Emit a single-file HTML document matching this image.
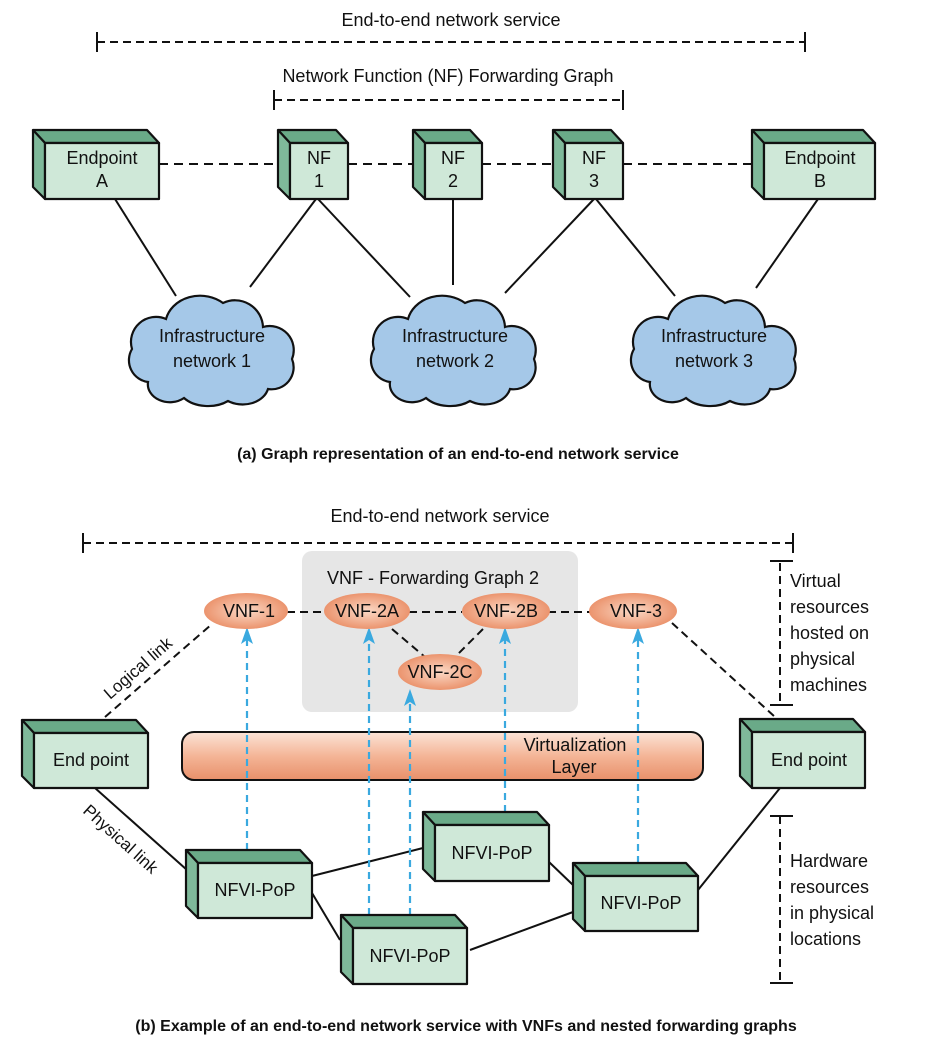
<!DOCTYPE html>
<html><head><meta charset="utf-8"><style>
html,body{margin:0;padding:0;background:#fff;}
svg{display:block;font-family:"Liberation Sans",Arial,sans-serif;}
</style></head><body>
<svg width="935" height="1044" viewBox="0 0 935 1044" xmlns="http://www.w3.org/2000/svg">
<defs>
<linearGradient id="og" x1="0" y1="0" x2="0" y2="1">
<stop offset="0" stop-color="#fbe3d6"/><stop offset="0.5" stop-color="#f4b597"/><stop offset="1" stop-color="#e8906a"/>
</linearGradient>
<radialGradient id="eg" cx="0.5" cy="0.5" r="0.6">
<stop offset="0" stop-color="#fbd9c6"/><stop offset="1" stop-color="#e8865c"/>
</radialGradient>
</defs>

<g fill="#111" font-size="18" text-anchor="middle">
<text x="451" y="26">End-to-end network service</text>
<text x="448" y="82">Network Function (NF) Forwarding Graph</text>
</g>
<g stroke="#111" stroke-width="2" fill="none">
<line x1="97" y1="42" x2="805" y2="42" stroke-dasharray="8,5"/>
<line x1="97" y1="32" x2="97" y2="52"/><line x1="805" y1="32" x2="805" y2="52"/>
<line x1="274" y1="100" x2="623" y2="100" stroke-dasharray="8,5"/>
<line x1="274" y1="90" x2="274" y2="110"/><line x1="623" y1="90" x2="623" y2="110"/>
</g>

<g stroke="#111" stroke-width="2" fill="none">
<line x1="159" y1="164" x2="278" y2="164" stroke-dasharray="9,6"/>
<line x1="348" y1="164" x2="413" y2="164" stroke-dasharray="9,6"/>
<line x1="482" y1="164" x2="553" y2="164" stroke-dasharray="9,6"/>
<line x1="623" y1="164" x2="752" y2="164" stroke-dasharray="9,6"/>
<line x1="115" y1="199" x2="176" y2="296"/>
<line x1="316" y1="199" x2="250" y2="287"/>
<line x1="318" y1="199" x2="410" y2="297"/>
<line x1="453" y1="199" x2="453" y2="285"/>
<line x1="594" y1="199" x2="505" y2="293"/>
<line x1="596" y1="199" x2="675" y2="296"/>
<line x1="818" y1="199" x2="756" y2="288"/>
</g>

<g fill="#a5c8e8" stroke="#111" stroke-width="2.2">
<path transform="translate(118,287)" d="M30,95 A22,22 0 0 1 14,62 A25,25 0 0 1 48,32 A35,30 0 0 1 105,16 A28,28 0 0 1 145,40 A24,24 0 0 1 174,72 A22,22 0 0 1 150,102 A26,20 0 0 1 110,114 A30,20 0 0 1 66,111 A22,18 0 0 1 30,95 Z"/>
<path transform="translate(360,287)" d="M30,95 A22,22 0 0 1 14,62 A25,25 0 0 1 48,32 A35,30 0 0 1 105,16 A28,28 0 0 1 145,40 A24,24 0 0 1 174,72 A22,22 0 0 1 150,102 A26,20 0 0 1 110,114 A30,20 0 0 1 66,111 A22,18 0 0 1 30,95 Z"/>
<path transform="translate(620,287)" d="M30,95 A22,22 0 0 1 14,62 A25,25 0 0 1 48,32 A35,30 0 0 1 105,16 A28,28 0 0 1 145,40 A24,24 0 0 1 174,72 A22,22 0 0 1 150,102 A26,20 0 0 1 110,114 A30,20 0 0 1 66,111 A22,18 0 0 1 30,95 Z"/>
</g>
<g fill="#111" font-size="18" text-anchor="middle">
<text x="212" y="342">Infrastructure</text><text x="212" y="367">network 1</text>
<text x="455" y="342">Infrastructure</text><text x="455" y="367">network 2</text>
<text x="714" y="342">Infrastructure</text><text x="714" y="367">network 3</text>
</g>

<g stroke="#111" stroke-width="2.2" stroke-linejoin="round">
<polygon points="45,143 33,130 147,130 159,143" fill="#6aaa88"/>
<polygon points="45,143 33,130 33,187 45,199" fill="#7fb99a"/>
<rect x="45" y="143" width="114" height="56" fill="#cfe8d8"/>
<polygon points="290,143 278,130 336,130 348,143" fill="#6aaa88"/>
<polygon points="290,143 278,130 278,187 290,199" fill="#7fb99a"/>
<rect x="290" y="143" width="58" height="56" fill="#cfe8d8"/>
<polygon points="425,143 413,130 470,130 482,143" fill="#6aaa88"/>
<polygon points="425,143 413,130 413,187 425,199" fill="#7fb99a"/>
<rect x="425" y="143" width="57" height="56" fill="#cfe8d8"/>
<polygon points="565,143 553,130 611,130 623,143" fill="#6aaa88"/>
<polygon points="565,143 553,130 553,187 565,199" fill="#7fb99a"/>
<rect x="565" y="143" width="58" height="56" fill="#cfe8d8"/>
<polygon points="764,143 752,130 863,130 875,143" fill="#6aaa88"/>
<polygon points="764,143 752,130 752,187 764,199" fill="#7fb99a"/>
<rect x="764" y="143" width="111" height="56" fill="#cfe8d8"/>
</g>
<g fill="#111" font-size="18" text-anchor="middle">
<text x="102" y="164">Endpoint</text><text x="102" y="187">A</text>
<text x="319" y="164">NF</text><text x="319" y="187">1</text>
<text x="453" y="164">NF</text><text x="453" y="187">2</text>
<text x="594" y="164">NF</text><text x="594" y="187">3</text>
<text x="820" y="164">Endpoint</text><text x="820" y="187">B</text>
</g>

<text x="458" y="459" font-size="16" font-weight="bold" text-anchor="middle" fill="#111">(a) Graph representation of an end-to-end network service</text>

<text x="440" y="522" font-size="18" text-anchor="middle" fill="#111">End-to-end network service</text>
<g stroke="#111" stroke-width="2" fill="none">
<line x1="83" y1="543" x2="793" y2="543" stroke-dasharray="8,5"/>
<line x1="83" y1="533" x2="83" y2="553"/><line x1="793" y1="533" x2="793" y2="553"/>
<line x1="780" y1="563" x2="780" y2="705" stroke-dasharray="8,5"/>
<line x1="770" y1="561" x2="793" y2="561"/><line x1="770" y1="705" x2="793" y2="705"/>
<line x1="780" y1="816" x2="780" y2="983" stroke-dasharray="8,5"/>
<line x1="770" y1="816" x2="793" y2="816"/><line x1="770" y1="983" x2="793" y2="983"/>
</g>
<g fill="#111" font-size="18">
<text x="790" y="587">Virtual</text><text x="790" y="613">resources</text><text x="790" y="639">hosted on</text><text x="790" y="665">physical</text><text x="790" y="691">machines</text>
<text x="790" y="867">Hardware</text><text x="790" y="893">resources</text><text x="790" y="919">in physical</text><text x="790" y="945">locations</text>
</g>

<rect x="302" y="551" width="276" height="161" rx="10" fill="#e6e6e6"/>
<text x="433" y="584" font-size="18" text-anchor="middle" fill="#111">VNF - Forwarding Graph 2</text>

<rect x="182" y="732" width="521" height="48" rx="12" fill="url(#og)" stroke="#111" stroke-width="2"/>
<g fill="#111" font-size="18" text-anchor="middle">
<text x="575" y="751">Virtualization</text><text x="574" y="773">Layer</text>
</g>

<g stroke="#111" stroke-width="2" fill="none" stroke-dasharray="8,5">
<line x1="105" y1="717" x2="212" y2="624"/>
<line x1="287" y1="612" x2="325" y2="612"/>
<line x1="409" y1="612" x2="462" y2="612"/>
<line x1="548" y1="612" x2="590" y2="612"/>
<line x1="392" y1="629" x2="425" y2="657"/>
<line x1="483" y1="629" x2="455" y2="657"/>
<line x1="672" y1="623" x2="775" y2="717"/>
</g>
<text transform="translate(110,700) rotate(-41)" font-size="17" fill="#111">Logical link</text>
<text transform="translate(82,812) rotate(42)" font-size="17" fill="#111">Physical link</text>

<g stroke="#111" stroke-width="2" fill="none">
<line x1="95" y1="788" x2="187" y2="870"/>
<line x1="312" y1="876" x2="423" y2="848"/>
<line x1="312" y1="893" x2="340" y2="940"/>
<line x1="470" y1="950" x2="573" y2="912"/>
<line x1="549" y1="862" x2="573" y2="885"/>
<line x1="698" y1="890" x2="780" y2="788"/>
</g>

<g stroke="#3aa9df" stroke-width="2.2" stroke-dasharray="7,5" fill="none">
<line x1="247" y1="850" x2="247" y2="640"/>
<line x1="369" y1="915" x2="369" y2="640"/>
<line x1="410" y1="915" x2="410" y2="702"/>
<line x1="505" y1="812" x2="505" y2="640"/>
<line x1="638" y1="863" x2="638" y2="640"/>
</g>
<g fill="#3aa9df">
<path d="M247,627 L241,644 L247,640 L253,644 Z"/>
<path d="M369,627 L363,644 L369,640 L375,644 Z"/>
<path d="M410,689 L404,706 L410,702 L416,706 Z"/>
<path d="M505,627 L499,644 L505,640 L511,644 Z"/>
<path d="M638,627 L632,644 L638,640 L644,644 Z"/>
</g>

<g fill="url(#eg)">
<ellipse cx="246" cy="611" rx="42" ry="18"/>
<ellipse cx="367" cy="611" rx="43" ry="18"/>
<ellipse cx="506" cy="611" rx="44" ry="18"/>
<ellipse cx="633" cy="611" rx="44" ry="18"/>
<ellipse cx="440" cy="672" rx="42" ry="18"/>
</g>
<g fill="#111" font-size="18" text-anchor="middle">
<text x="249" y="617">VNF-1</text>
<text x="367" y="617">VNF-2A</text>
<text x="506" y="617">VNF-2B</text>
<text x="636" y="617">VNF-3</text>
<text x="440" y="678">VNF-2C</text>
</g>

<g stroke="#111" stroke-width="2.2" stroke-linejoin="round">
<polygon points="34,733 22,720 136,720 148,733" fill="#6aaa88"/>
<polygon points="34,733 22,720 22,776 34,788" fill="#7fb99a"/>
<rect x="34" y="733" width="114" height="55" fill="#cfe8d8"/>
<polygon points="752,732 740,719 853,719 865,732" fill="#6aaa88"/>
<polygon points="752,732 740,719 740,776 752,788" fill="#7fb99a"/>
<rect x="752" y="732" width="113" height="56" fill="#cfe8d8"/>
<polygon points="198,863 186,850 300,850 312,863" fill="#6aaa88"/>
<polygon points="198,863 186,850 186,906 198,918" fill="#7fb99a"/>
<rect x="198" y="863" width="114" height="55" fill="#cfe8d8"/>
<polygon points="435,825 423,812 537,812 549,825" fill="#6aaa88"/>
<polygon points="435,825 423,812 423,869 435,881" fill="#7fb99a"/>
<rect x="435" y="825" width="114" height="56" fill="#cfe8d8"/>
<polygon points="353,928 341,915 455,915 467,928" fill="#6aaa88"/>
<polygon points="353,928 341,915 341,972 353,984" fill="#7fb99a"/>
<rect x="353" y="928" width="114" height="56" fill="#cfe8d8"/>
<polygon points="585,876 573,863 686,863 698,876" fill="#6aaa88"/>
<polygon points="585,876 573,863 573,919 585,931" fill="#7fb99a"/>
<rect x="585" y="876" width="113" height="55" fill="#cfe8d8"/>
</g>
<g fill="#111" font-size="18" text-anchor="middle">
<text x="91" y="766">End point</text>
<text x="809" y="766">End point</text>
<text x="255" y="896">NFVI-PoP</text>
<text x="492" y="859">NFVI-PoP</text>
<text x="410" y="962">NFVI-PoP</text>
<text x="641" y="909">NFVI-PoP</text>
</g>

<text x="466" y="1031" font-size="16" font-weight="bold" text-anchor="middle" fill="#111">(b) Example of an end-to-end network service with VNFs and nested forwarding graphs</text>
</svg>
</body></html>
